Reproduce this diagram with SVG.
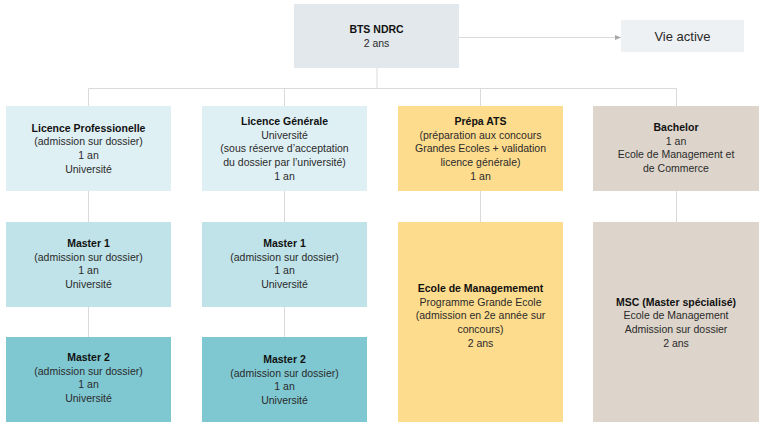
<svg xmlns="http://www.w3.org/2000/svg" width="768" height="432" viewBox="0 0 768 432">
<defs>
<marker id="arr" viewBox="0 0 6 6" refX="6" refY="3" markerWidth="6" markerHeight="6" markerUnits="userSpaceOnUse" orient="auto">
<path d="M0,0.5 L6,3 L0,5.5 Z" fill="#a8a8a8"/>
</marker>
<style>
text{font-family:"Liberation Sans",Arial,sans-serif;font-size:10.5px;fill:#2a2a2a;text-anchor:middle}
.b{font-weight:bold;fill:#111}
.big{font-size:13px}
.ln{stroke:#dadada;stroke-width:1;fill:none}
.c-bts{fill:#e3e8ec}
.c-vie{fill:#eef1f4}
.c-lic{fill:#dff0f4}
.c-m1{fill:#bfe3e8}
.c-m2{fill:#7fc8d2}
.c-y{fill:#fedc8d}
.c-g{fill:#ddd5cb}
</style>
</defs>
<rect width="768" height="432" fill="#ffffff"/>
<g id="connectors">
<line class="ln" x1="459" y1="37.5" x2="621" y2="37.5" marker-end="url(#arr)"/>
<line class="ln" x1="377" y1="68" x2="377" y2="88.5"/>
<line class="ln" x1="88.5" y1="88.5" x2="676.5" y2="88.5"/>
<line class="ln" x1="88.5" y1="88.5" x2="88.5" y2="106"/>
<line class="ln" x1="284.5" y1="88.5" x2="284.5" y2="106"/>
<line class="ln" x1="480.5" y1="88.5" x2="480.5" y2="106"/>
<line class="ln" x1="676.5" y1="88.5" x2="676.5" y2="106"/>
<line class="ln" x1="88.5" y1="191" x2="88.5" y2="222"/>
<line class="ln" x1="284.5" y1="191" x2="284.5" y2="222"/>
<line class="ln" x1="480.5" y1="191" x2="480.5" y2="222"/>
<line class="ln" x1="676.5" y1="191" x2="676.5" y2="222"/>
<line class="ln" x1="88.5" y1="307" x2="88.5" y2="337"/>
<line class="ln" x1="284.5" y1="307" x2="284.5" y2="337"/>
</g>
<g id="bts">
<rect class="c-bts" x="294" y="4" width="165" height="64"/>
<text x="376.5" y="33" class="b">BTS NDRC</text>
<text x="376.5" y="47">2 ans</text>
</g>
<g id="vie-active">
<rect class="c-vie" x="621" y="20" width="123" height="32"/>
<text x="682.5" y="41" class="big">Vie active</text>
</g>
<g id="licence-pro">
<rect class="c-lic" x="6" y="106" width="165" height="85"/>
<text x="88.5" y="131.7" class="b">Licence Professionelle</text>
<text x="88.5" y="145.4">(admission sur dossier)</text>
<text x="88.5" y="159.1">1 an</text>
<text x="88.5" y="172.8">Université</text>
</g>
<g id="licence-generale">
<rect class="c-lic" x="202" y="106" width="165" height="85"/>
<text x="284.5" y="125" class="b">Licence Générale</text>
<text x="284.5" y="138.7">Université</text>
<text x="284.5" y="152.4">(sous réserve d’acceptation</text>
<text x="284.5" y="166.1">du dossier par l’université)</text>
<text x="284.5" y="179.8">1 an</text>
</g>
<g id="prepa-ats">
<rect class="c-y" x="398" y="106" width="165" height="85"/>
<text x="480.5" y="125" class="b">Prépa ATS</text>
<text x="480.5" y="138.7">(préparation aux concours</text>
<text x="480.5" y="152.4">Grandes Ecoles + validation</text>
<text x="480.5" y="166.1">licence générale)</text>
<text x="480.5" y="179.8">1 an</text>
</g>
<g id="bachelor">
<rect class="c-g" x="593" y="106" width="166" height="85"/>
<text x="676" y="131" class="b">Bachelor</text>
<text x="676" y="144.7">1 an</text>
<text x="676" y="158.4">Ecole de Management et</text>
<text x="676" y="172.1">de Commerce</text>
</g>
<g id="master1-a">
<rect class="c-m1" x="6" y="222" width="165" height="85"/>
<text x="88.5" y="247" class="b">Master 1</text>
<text x="88.5" y="260.7">(admission sur dossier)</text>
<text x="88.5" y="274.4">1 an</text>
<text x="88.5" y="288.1">Université</text>
</g>
<g id="master1-b">
<rect class="c-m1" x="202" y="222" width="165" height="85"/>
<text x="284.5" y="247" class="b">Master 1</text>
<text x="284.5" y="260.7">(admission sur dossier)</text>
<text x="284.5" y="274.4">1 an</text>
<text x="284.5" y="288.1">Université</text>
</g>
<g id="master2-a">
<rect class="c-m2" x="6" y="337" width="165" height="85"/>
<text x="88.5" y="361" class="b">Master 2</text>
<text x="88.5" y="374.7">(admission sur dossier)</text>
<text x="88.5" y="388.4">1 an</text>
<text x="88.5" y="402.1">Université</text>
</g>
<g id="master2-b">
<rect class="c-m2" x="202" y="337" width="165" height="85"/>
<text x="284.5" y="363" class="b">Master 2</text>
<text x="284.5" y="376.7">(admission sur dossier)</text>
<text x="284.5" y="390.4">1 an</text>
<text x="284.5" y="404.1">Université</text>
</g>
<g id="ecole-management">
<rect class="c-y" x="398" y="222" width="165" height="200"/>
<text x="480.5" y="292" class="b">Ecole de Managemement</text>
<text x="480.5" y="305.7">Programme Grande Ecole</text>
<text x="480.5" y="319.4">(admission en 2e année sur</text>
<text x="480.5" y="333.1">concours)</text>
<text x="480.5" y="346.8">2 ans</text>
</g>
<g id="msc">
<rect class="c-g" x="593" y="222" width="166" height="200"/>
<text x="676" y="305.7" class="b">MSC (Master spécialisé)</text>
<text x="676" y="319.4">Ecole de Management</text>
<text x="676" y="333.1">Admission sur dossier</text>
<text x="676" y="346.8">2 ans</text>
</g>
</svg>
